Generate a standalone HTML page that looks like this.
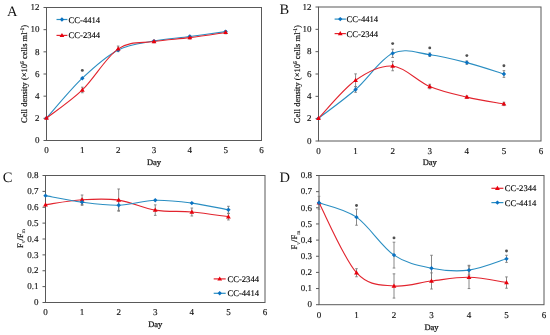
<!DOCTYPE html>
<html><head><meta charset="utf-8"><style>
html,body{margin:0;padding:0;background:#fff;width:550px;height:335px;overflow:hidden}
svg{display:block;text-rendering:geometricPrecision;will-change:transform;filter:blur(0.3px);font-family:"Liberation Serif",serif}
</style></head><body>
<svg width="550" height="335" viewBox="0 0 550 335">
<rect width="550" height="335" fill="#fff"/>
<rect x="46.50" y="7.50" width="215.00" height="133.00" fill="none" stroke="#595959" stroke-width="1"/>
<line x1="43.50" y1="140.50" x2="46.50" y2="140.50" stroke="#595959" stroke-width="1"/>
<text x="39.50" y="143.20" font-size="9" text-anchor="end" font-weight="normal" fill="#151515" stroke="#151515" stroke-width="0.15" >0</text>
<line x1="43.50" y1="118.33" x2="46.50" y2="118.33" stroke="#595959" stroke-width="1"/>
<text x="39.50" y="121.03" font-size="9" text-anchor="end" font-weight="normal" fill="#151515" stroke="#151515" stroke-width="0.15" >2</text>
<line x1="43.50" y1="96.17" x2="46.50" y2="96.17" stroke="#595959" stroke-width="1"/>
<text x="39.50" y="98.87" font-size="9" text-anchor="end" font-weight="normal" fill="#151515" stroke="#151515" stroke-width="0.15" >4</text>
<line x1="43.50" y1="74.00" x2="46.50" y2="74.00" stroke="#595959" stroke-width="1"/>
<text x="39.50" y="76.70" font-size="9" text-anchor="end" font-weight="normal" fill="#151515" stroke="#151515" stroke-width="0.15" >6</text>
<line x1="43.50" y1="51.83" x2="46.50" y2="51.83" stroke="#595959" stroke-width="1"/>
<text x="39.50" y="54.53" font-size="9" text-anchor="end" font-weight="normal" fill="#151515" stroke="#151515" stroke-width="0.15" >8</text>
<line x1="43.50" y1="29.67" x2="46.50" y2="29.67" stroke="#595959" stroke-width="1"/>
<text x="39.50" y="32.37" font-size="9" text-anchor="end" font-weight="normal" fill="#151515" stroke="#151515" stroke-width="0.15" >10</text>
<line x1="43.50" y1="7.50" x2="46.50" y2="7.50" stroke="#595959" stroke-width="1"/>
<text x="39.50" y="10.20" font-size="9" text-anchor="end" font-weight="normal" fill="#151515" stroke="#151515" stroke-width="0.15" >12</text>
<text x="46.50" y="153.45" font-size="9" text-anchor="middle" font-weight="normal" fill="#151515" stroke="#151515" stroke-width="0.15" >0</text>
<text x="82.33" y="153.45" font-size="9" text-anchor="middle" font-weight="normal" fill="#151515" stroke="#151515" stroke-width="0.15" >1</text>
<text x="118.17" y="153.45" font-size="9" text-anchor="middle" font-weight="normal" fill="#151515" stroke="#151515" stroke-width="0.15" >2</text>
<text x="154.00" y="153.45" font-size="9" text-anchor="middle" font-weight="normal" fill="#151515" stroke="#151515" stroke-width="0.15" >3</text>
<text x="189.83" y="153.45" font-size="9" text-anchor="middle" font-weight="normal" fill="#151515" stroke="#151515" stroke-width="0.15" >4</text>
<text x="225.67" y="153.45" font-size="9" text-anchor="middle" font-weight="normal" fill="#151515" stroke="#151515" stroke-width="0.15" >5</text>
<text x="261.50" y="153.45" font-size="9" text-anchor="middle" font-weight="normal" fill="#151515" stroke="#151515" stroke-width="0.15" >6</text>
<text x="154.00" y="165.00" font-size="8.5" text-anchor="middle" font-weight="normal" fill="#151515" stroke="#151515" stroke-width="0.25" >Day</text>
<text transform="rotate(-90 27.30 74.00)" x="27.30" y="74.00" font-size="8.5" text-anchor="middle" font-weight="normal" fill="#151515" stroke="#151515" stroke-width="0.2">Cell density (×10<tspan font-size="5.5" dy="-3">6</tspan><tspan dy="3"> cells ml</tspan><tspan font-size="5.5" dy="-3">-1</tspan><tspan dy="3">)</tspan></text>
<text x="7.00" y="15.90" font-size="14.5" text-anchor="start" font-weight="normal" fill="#111" stroke="#111" stroke-width="0" >A</text>
<path d="M189.83,35.43 V37.65 M188.53,35.43 h2.6 M188.53,37.65 h2.6" stroke="#7c7c7c" stroke-width="0.9" fill="none"/>
<path d="M225.67,30.55 V32.77 M224.37,30.55 h2.6 M224.37,32.77 h2.6" stroke="#7c7c7c" stroke-width="0.9" fill="none"/>
<path d="M82.33,87.19 V92.73 M81.03,87.19 h2.6 M81.03,92.73 h2.6" stroke="#7c7c7c" stroke-width="0.9" fill="none"/>
<path d="M118.17,46.07 V51.61 M116.87,46.07 h2.6 M116.87,51.61 h2.6" stroke="#7c7c7c" stroke-width="0.9" fill="none"/>
<path d="M154.00,40.42 V42.63 M152.70,40.42 h2.6 M152.70,42.63 h2.6" stroke="#7c7c7c" stroke-width="0.9" fill="none"/>
<path d="M189.83,36.32 V38.98 M188.53,36.32 h2.6 M188.53,38.98 h2.6" stroke="#7c7c7c" stroke-width="0.9" fill="none"/>
<path d="M225.67,31.11 V33.77 M224.37,31.11 h2.6 M224.37,33.77 h2.6" stroke="#7c7c7c" stroke-width="0.9" fill="none"/>
<path d="M46.50,118.11 C52.47,111.46 70.39,89.57 82.33,78.21 C94.28,66.85 106.22,56.14 118.17,49.95 C130.11,43.76 142.06,43.32 154.00,41.08 C165.94,38.85 177.89,38.11 189.83,36.54 C201.78,34.97 219.69,32.47 225.67,31.66" fill="none" stroke="#2a8ec2" stroke-width="1.10"/>
<path d="M46.50,115.91 l2.20,2.20 l-2.20,2.20 l-2.20,-2.20 z" fill="#0a72c2"/>
<path d="M82.33,76.01 l2.20,2.20 l-2.20,2.20 l-2.20,-2.20 z" fill="#0a72c2"/>
<path d="M118.17,47.75 l2.20,2.20 l-2.20,2.20 l-2.20,-2.20 z" fill="#0a72c2"/>
<path d="M154.00,38.88 l2.20,2.20 l-2.20,2.20 l-2.20,-2.20 z" fill="#0a72c2"/>
<path d="M189.83,34.34 l2.20,2.20 l-2.20,2.20 l-2.20,-2.20 z" fill="#0a72c2"/>
<path d="M225.67,29.46 l2.20,2.20 l-2.20,2.20 l-2.20,-2.20 z" fill="#0a72c2"/>
<path d="M46.50,118.11 C52.47,113.42 70.39,101.51 82.33,89.96 C94.28,78.41 106.22,56.91 118.17,48.84 C130.11,40.77 142.06,43.39 154.00,41.53 C165.94,39.66 177.89,39.16 189.83,37.65 C201.78,36.13 219.69,33.31 225.67,32.44" fill="none" stroke="#e2242e" stroke-width="1.10"/>
<path d="M46.50,115.59 L48.90,119.79 L44.10,119.79 z" fill="#e8000c"/>
<path d="M82.33,87.44 L84.73,91.64 L79.93,91.64 z" fill="#e8000c"/>
<path d="M118.17,46.32 L120.57,50.52 L115.77,50.52 z" fill="#e8000c"/>
<path d="M154.00,39.01 L156.40,43.21 L151.60,43.21 z" fill="#e8000c"/>
<path d="M189.83,35.13 L192.23,39.33 L187.43,39.33 z" fill="#e8000c"/>
<path d="M225.67,29.92 L228.07,34.12 L223.27,34.12 z" fill="#e8000c"/>
<circle cx="82.33" cy="70.40" r="1.45" fill="#505050"/>
<line x1="56.50" y1="19.50" x2="67.40" y2="19.50" stroke="#2a8ec2" stroke-width="1.2"/>
<path d="M61.95,17.30 l2.20,2.20 l-2.20,2.20 l-2.20,-2.20 z" fill="#0a72c2"/>
<text x="68.50" y="22.50" font-size="8.65" text-anchor="start" font-weight="normal" fill="#000" stroke="#000" stroke-width="0.14" >CC-4414</text>
<line x1="56.50" y1="35.40" x2="67.40" y2="35.40" stroke="#e2242e" stroke-width="1.2"/>
<path d="M61.95,32.88 L64.35,37.08 L59.55,37.08 z" fill="#e8000c"/>
<text x="68.50" y="38.40" font-size="8.65" text-anchor="start" font-weight="normal" fill="#000" stroke="#000" stroke-width="0.14" >CC-2344</text>
<rect x="318.50" y="7.00" width="222.50" height="134.00" fill="none" stroke="#595959" stroke-width="1"/>
<line x1="315.50" y1="141.00" x2="318.50" y2="141.00" stroke="#595959" stroke-width="1"/>
<text x="311.50" y="143.70" font-size="9" text-anchor="end" font-weight="normal" fill="#151515" stroke="#151515" stroke-width="0.15" >0</text>
<line x1="315.50" y1="118.67" x2="318.50" y2="118.67" stroke="#595959" stroke-width="1"/>
<text x="311.50" y="121.37" font-size="9" text-anchor="end" font-weight="normal" fill="#151515" stroke="#151515" stroke-width="0.15" >2</text>
<line x1="315.50" y1="96.33" x2="318.50" y2="96.33" stroke="#595959" stroke-width="1"/>
<text x="311.50" y="99.03" font-size="9" text-anchor="end" font-weight="normal" fill="#151515" stroke="#151515" stroke-width="0.15" >4</text>
<line x1="315.50" y1="74.00" x2="318.50" y2="74.00" stroke="#595959" stroke-width="1"/>
<text x="311.50" y="76.70" font-size="9" text-anchor="end" font-weight="normal" fill="#151515" stroke="#151515" stroke-width="0.15" >6</text>
<line x1="315.50" y1="51.67" x2="318.50" y2="51.67" stroke="#595959" stroke-width="1"/>
<text x="311.50" y="54.37" font-size="9" text-anchor="end" font-weight="normal" fill="#151515" stroke="#151515" stroke-width="0.15" >8</text>
<line x1="315.50" y1="29.33" x2="318.50" y2="29.33" stroke="#595959" stroke-width="1"/>
<text x="311.50" y="32.03" font-size="9" text-anchor="end" font-weight="normal" fill="#151515" stroke="#151515" stroke-width="0.15" >10</text>
<line x1="315.50" y1="7.00" x2="318.50" y2="7.00" stroke="#595959" stroke-width="1"/>
<text x="311.50" y="9.70" font-size="9" text-anchor="end" font-weight="normal" fill="#151515" stroke="#151515" stroke-width="0.15" >12</text>
<text x="318.50" y="153.95" font-size="9" text-anchor="middle" font-weight="normal" fill="#151515" stroke="#151515" stroke-width="0.15" >0</text>
<text x="355.58" y="153.95" font-size="9" text-anchor="middle" font-weight="normal" fill="#151515" stroke="#151515" stroke-width="0.15" >1</text>
<text x="392.67" y="153.95" font-size="9" text-anchor="middle" font-weight="normal" fill="#151515" stroke="#151515" stroke-width="0.15" >2</text>
<text x="429.75" y="153.95" font-size="9" text-anchor="middle" font-weight="normal" fill="#151515" stroke="#151515" stroke-width="0.15" >3</text>
<text x="466.83" y="153.95" font-size="9" text-anchor="middle" font-weight="normal" fill="#151515" stroke="#151515" stroke-width="0.15" >4</text>
<text x="503.92" y="153.95" font-size="9" text-anchor="middle" font-weight="normal" fill="#151515" stroke="#151515" stroke-width="0.15" >5</text>
<text x="541.00" y="153.95" font-size="9" text-anchor="middle" font-weight="normal" fill="#151515" stroke="#151515" stroke-width="0.15" >6</text>
<text x="429.75" y="165.00" font-size="8.5" text-anchor="middle" font-weight="normal" fill="#151515" stroke="#151515" stroke-width="0.25" >Day</text>
<text transform="rotate(-90 299.60 74.10)" x="299.60" y="74.10" font-size="8.5" text-anchor="middle" font-weight="normal" fill="#151515" stroke="#151515" stroke-width="0.2">Cell density (×10<tspan font-size="5.5" dy="-3">6</tspan><tspan dy="3"> cells ml</tspan><tspan font-size="5.5" dy="-3">-1</tspan><tspan dy="3">)</tspan></text>
<text x="279.50" y="14.30" font-size="14.5" text-anchor="start" font-weight="normal" fill="#111" stroke="#111" stroke-width="0" >B</text>
<path d="M355.58,86.73 V92.31 M354.28,86.73 h2.6 M354.28,92.31 h2.6" stroke="#7c7c7c" stroke-width="0.9" fill="none"/>
<path d="M392.67,49.21 V57.47 M391.37,49.21 h2.6 M391.37,57.47 h2.6" stroke="#7c7c7c" stroke-width="0.9" fill="none"/>
<path d="M429.75,53.01 V56.36 M428.45,53.01 h2.6 M428.45,56.36 h2.6" stroke="#7c7c7c" stroke-width="0.9" fill="none"/>
<path d="M466.83,60.94 V64.29 M465.53,60.94 h2.6 M465.53,64.29 h2.6" stroke="#7c7c7c" stroke-width="0.9" fill="none"/>
<path d="M503.92,70.65 V77.35 M502.62,70.65 h2.6 M502.62,77.35 h2.6" stroke="#7c7c7c" stroke-width="0.9" fill="none"/>
<path d="M355.58,73.89 V86.62 M354.28,73.89 h2.6 M354.28,86.62 h2.6" stroke="#7c7c7c" stroke-width="0.9" fill="none"/>
<path d="M392.67,61.38 V70.76 M391.37,61.38 h2.6 M391.37,70.76 h2.6" stroke="#7c7c7c" stroke-width="0.9" fill="none"/>
<path d="M429.75,84.27 V88.74 M428.45,84.27 h2.6 M428.45,88.74 h2.6" stroke="#7c7c7c" stroke-width="0.9" fill="none"/>
<path d="M466.83,96.00 V98.23 M465.53,96.00 h2.6 M465.53,98.23 h2.6" stroke="#7c7c7c" stroke-width="0.9" fill="none"/>
<path d="M503.92,102.25 V105.60 M502.62,102.25 h2.6 M502.62,105.60 h2.6" stroke="#7c7c7c" stroke-width="0.9" fill="none"/>
<path d="M318.50,118.33 C324.68,113.53 343.22,100.35 355.58,89.52 C367.94,78.69 380.31,59.15 392.67,53.34 C405.03,47.54 417.39,53.14 429.75,54.68 C442.11,56.23 454.47,59.39 466.83,62.61 C479.19,65.83 497.74,72.10 503.92,74.00" fill="none" stroke="#2a8ec2" stroke-width="1.10"/>
<path d="M318.50,116.13 l2.20,2.20 l-2.20,2.20 l-2.20,-2.20 z" fill="#0a72c2"/>
<path d="M355.58,87.32 l2.20,2.20 l-2.20,2.20 l-2.20,-2.20 z" fill="#0a72c2"/>
<path d="M392.67,51.14 l2.20,2.20 l-2.20,2.20 l-2.20,-2.20 z" fill="#0a72c2"/>
<path d="M429.75,52.48 l2.20,2.20 l-2.20,2.20 l-2.20,-2.20 z" fill="#0a72c2"/>
<path d="M466.83,60.41 l2.20,2.20 l-2.20,2.20 l-2.20,-2.20 z" fill="#0a72c2"/>
<path d="M503.92,71.80 l2.20,2.20 l-2.20,2.20 l-2.20,-2.20 z" fill="#0a72c2"/>
<path d="M318.50,118.33 C324.68,111.99 343.22,88.96 355.58,80.25 C367.94,71.54 380.31,65.03 392.67,66.07 C405.03,67.11 417.39,81.33 429.75,86.51 C442.11,91.68 454.47,94.21 466.83,97.12 C479.19,100.02 497.74,102.79 503.92,103.93" fill="none" stroke="#e2242e" stroke-width="1.10"/>
<path d="M318.50,115.81 L320.90,120.01 L316.10,120.01 z" fill="#e8000c"/>
<path d="M355.58,77.73 L357.98,81.93 L353.18,81.93 z" fill="#e8000c"/>
<path d="M392.67,63.55 L395.07,67.75 L390.27,67.75 z" fill="#e8000c"/>
<path d="M429.75,83.99 L432.15,88.19 L427.35,88.19 z" fill="#e8000c"/>
<path d="M466.83,94.60 L469.23,98.80 L464.43,98.80 z" fill="#e8000c"/>
<path d="M503.92,101.41 L506.32,105.61 L501.52,105.61 z" fill="#e8000c"/>
<circle cx="392.67" cy="43.60" r="1.45" fill="#505050"/>
<circle cx="429.75" cy="47.90" r="1.45" fill="#505050"/>
<circle cx="466.83" cy="55.60" r="1.45" fill="#505050"/>
<circle cx="503.92" cy="65.80" r="1.45" fill="#505050"/>
<line x1="334.60" y1="19.10" x2="345.90" y2="19.10" stroke="#2a8ec2" stroke-width="1.2"/>
<path d="M340.25,16.90 l2.20,2.20 l-2.20,2.20 l-2.20,-2.20 z" fill="#0a72c2"/>
<text x="346.50" y="22.10" font-size="8.65" text-anchor="start" font-weight="normal" fill="#000" stroke="#000" stroke-width="0.14" >CC-4414</text>
<line x1="334.60" y1="33.60" x2="345.90" y2="33.60" stroke="#e2242e" stroke-width="1.2"/>
<path d="M340.25,31.08 L342.65,35.28 L337.85,35.28 z" fill="#e8000c"/>
<text x="346.50" y="36.60" font-size="8.65" text-anchor="start" font-weight="normal" fill="#000" stroke="#000" stroke-width="0.14" >CC-2344</text>
<rect x="45.50" y="175.50" width="219.50" height="127.00" fill="none" stroke="#595959" stroke-width="1"/>
<line x1="42.50" y1="302.50" x2="45.50" y2="302.50" stroke="#595959" stroke-width="1"/>
<text x="38.50" y="305.20" font-size="9" text-anchor="end" font-weight="normal" fill="#151515" stroke="#151515" stroke-width="0.15" >0</text>
<line x1="42.50" y1="286.62" x2="45.50" y2="286.62" stroke="#595959" stroke-width="1"/>
<text x="38.50" y="289.32" font-size="9" text-anchor="end" font-weight="normal" fill="#151515" stroke="#151515" stroke-width="0.15" >0.1</text>
<line x1="42.50" y1="270.75" x2="45.50" y2="270.75" stroke="#595959" stroke-width="1"/>
<text x="38.50" y="273.45" font-size="9" text-anchor="end" font-weight="normal" fill="#151515" stroke="#151515" stroke-width="0.15" >0.2</text>
<line x1="42.50" y1="254.88" x2="45.50" y2="254.88" stroke="#595959" stroke-width="1"/>
<text x="38.50" y="257.57" font-size="9" text-anchor="end" font-weight="normal" fill="#151515" stroke="#151515" stroke-width="0.15" >0.3</text>
<line x1="42.50" y1="239.00" x2="45.50" y2="239.00" stroke="#595959" stroke-width="1"/>
<text x="38.50" y="241.70" font-size="9" text-anchor="end" font-weight="normal" fill="#151515" stroke="#151515" stroke-width="0.15" >0.4</text>
<line x1="42.50" y1="223.12" x2="45.50" y2="223.12" stroke="#595959" stroke-width="1"/>
<text x="38.50" y="225.82" font-size="9" text-anchor="end" font-weight="normal" fill="#151515" stroke="#151515" stroke-width="0.15" >0.5</text>
<line x1="42.50" y1="207.25" x2="45.50" y2="207.25" stroke="#595959" stroke-width="1"/>
<text x="38.50" y="209.95" font-size="9" text-anchor="end" font-weight="normal" fill="#151515" stroke="#151515" stroke-width="0.15" >0.6</text>
<line x1="42.50" y1="191.38" x2="45.50" y2="191.38" stroke="#595959" stroke-width="1"/>
<text x="38.50" y="194.07" font-size="9" text-anchor="end" font-weight="normal" fill="#151515" stroke="#151515" stroke-width="0.15" >0.7</text>
<line x1="42.50" y1="175.50" x2="45.50" y2="175.50" stroke="#595959" stroke-width="1"/>
<text x="38.50" y="178.20" font-size="9" text-anchor="end" font-weight="normal" fill="#151515" stroke="#151515" stroke-width="0.15" >0.8</text>
<text x="45.50" y="315.45" font-size="9" text-anchor="middle" font-weight="normal" fill="#151515" stroke="#151515" stroke-width="0.15" >0</text>
<text x="82.08" y="315.45" font-size="9" text-anchor="middle" font-weight="normal" fill="#151515" stroke="#151515" stroke-width="0.15" >1</text>
<text x="118.67" y="315.45" font-size="9" text-anchor="middle" font-weight="normal" fill="#151515" stroke="#151515" stroke-width="0.15" >2</text>
<text x="155.25" y="315.45" font-size="9" text-anchor="middle" font-weight="normal" fill="#151515" stroke="#151515" stroke-width="0.15" >3</text>
<text x="191.83" y="315.45" font-size="9" text-anchor="middle" font-weight="normal" fill="#151515" stroke="#151515" stroke-width="0.15" >4</text>
<text x="228.42" y="315.45" font-size="9" text-anchor="middle" font-weight="normal" fill="#151515" stroke="#151515" stroke-width="0.15" >5</text>
<text x="265.00" y="315.45" font-size="9" text-anchor="middle" font-weight="normal" fill="#151515" stroke="#151515" stroke-width="0.15" >6</text>
<text x="155.25" y="327.00" font-size="8.5" text-anchor="middle" font-weight="normal" fill="#151515" stroke="#151515" stroke-width="0.25" >Day</text>
<text transform="rotate(-90 22.50 238.50)" x="22.50" y="238.50" font-size="8.5" text-anchor="middle" font-weight="normal" fill="#151515" stroke="#151515" stroke-width="0.22">F<tspan font-size="5.4" dy="2.6" stroke-width="0.08">v</tspan><tspan dy="-2.6">/F</tspan><tspan font-size="5.4" dy="2.6" stroke-width="0.08">m</tspan></text>
<text x="2.70" y="182.30" font-size="14.5" text-anchor="start" font-weight="normal" fill="#111" stroke="#111" stroke-width="0" >C</text>
<path d="M82.08,195.03 V204.55 M80.78,195.03 h2.6 M80.78,204.55 h2.6" stroke="#7c7c7c" stroke-width="0.9" fill="none"/>
<path d="M118.67,188.99 V211.22 M117.37,188.99 h2.6 M117.37,211.22 h2.6" stroke="#7c7c7c" stroke-width="0.9" fill="none"/>
<path d="M155.25,204.87 V215.35 M153.95,204.87 h2.6 M153.95,215.35 h2.6" stroke="#7c7c7c" stroke-width="0.9" fill="none"/>
<path d="M191.83,208.04 V215.98 M190.53,208.04 h2.6 M190.53,215.98 h2.6" stroke="#7c7c7c" stroke-width="0.9" fill="none"/>
<path d="M228.42,213.60 V219.95 M227.12,213.60 h2.6 M227.12,219.95 h2.6" stroke="#7c7c7c" stroke-width="0.9" fill="none"/>
<path d="M82.08,199.00 V205.34 M80.78,199.00 h2.6 M80.78,205.34 h2.6" stroke="#7c7c7c" stroke-width="0.9" fill="none"/>
<path d="M118.67,199.95 V210.43 M117.37,199.95 h2.6 M117.37,210.43 h2.6" stroke="#7c7c7c" stroke-width="0.9" fill="none"/>
<path d="M228.42,206.30 V213.28 M227.12,206.30 h2.6 M227.12,213.28 h2.6" stroke="#7c7c7c" stroke-width="0.9" fill="none"/>
<path d="M45.50,204.71 C51.60,203.89 69.89,200.56 82.08,199.79 C94.28,199.02 106.47,198.39 118.67,200.11 C130.86,201.83 143.06,208.12 155.25,210.11 C167.44,212.09 179.64,210.90 191.83,212.01 C204.03,213.12 222.32,215.98 228.42,216.78" fill="none" stroke="#e2242e" stroke-width="1.10"/>
<path d="M45.50,202.19 L47.90,206.39 L43.10,206.39 z" fill="#e8000c"/>
<path d="M82.08,197.27 L84.48,201.47 L79.68,201.47 z" fill="#e8000c"/>
<path d="M118.67,197.59 L121.07,201.79 L116.27,201.79 z" fill="#e8000c"/>
<path d="M155.25,207.59 L157.65,211.79 L152.85,211.79 z" fill="#e8000c"/>
<path d="M191.83,209.49 L194.23,213.69 L189.43,213.69 z" fill="#e8000c"/>
<path d="M228.42,214.25 L230.82,218.46 L226.02,218.46 z" fill="#e8000c"/>
<path d="M45.50,195.66 C51.60,196.75 69.89,200.58 82.08,202.17 C94.28,203.76 106.47,205.50 118.67,205.19 C130.86,204.87 143.06,200.61 155.25,200.27 C167.44,199.92 179.64,201.53 191.83,203.12 C204.03,204.71 222.32,208.68 228.42,209.79" fill="none" stroke="#2a8ec2" stroke-width="1.10"/>
<path d="M45.50,193.46 l2.20,2.20 l-2.20,2.20 l-2.20,-2.20 z" fill="#0a72c2"/>
<path d="M82.08,199.97 l2.20,2.20 l-2.20,2.20 l-2.20,-2.20 z" fill="#0a72c2"/>
<path d="M118.67,202.99 l2.20,2.20 l-2.20,2.20 l-2.20,-2.20 z" fill="#0a72c2"/>
<path d="M155.25,198.07 l2.20,2.20 l-2.20,2.20 l-2.20,-2.20 z" fill="#0a72c2"/>
<path d="M191.83,200.92 l2.20,2.20 l-2.20,2.20 l-2.20,-2.20 z" fill="#0a72c2"/>
<path d="M228.42,207.59 l2.20,2.20 l-2.20,2.20 l-2.20,-2.20 z" fill="#0a72c2"/>
<line x1="213.70" y1="278.90" x2="225.70" y2="278.90" stroke="#e2242e" stroke-width="1.2"/>
<path d="M219.70,276.38 L222.10,280.58 L217.30,280.58 z" fill="#e8000c"/>
<text x="227.40" y="281.90" font-size="8.65" text-anchor="start" font-weight="normal" fill="#000" stroke="#000" stroke-width="0.14" >CC-2344</text>
<line x1="213.70" y1="293.30" x2="225.70" y2="293.30" stroke="#2a8ec2" stroke-width="1.2"/>
<path d="M219.70,291.10 l2.20,2.20 l-2.20,2.20 l-2.20,-2.20 z" fill="#0a72c2"/>
<text x="227.40" y="296.30" font-size="8.65" text-anchor="start" font-weight="normal" fill="#000" stroke="#000" stroke-width="0.14" >CC-4414</text>
<rect x="319.00" y="175.50" width="225.00" height="129.20" fill="none" stroke="#595959" stroke-width="1"/>
<line x1="316.00" y1="304.70" x2="319.00" y2="304.70" stroke="#595959" stroke-width="1"/>
<text x="312.00" y="307.40" font-size="9" text-anchor="end" font-weight="normal" fill="#151515" stroke="#151515" stroke-width="0.15" >0</text>
<line x1="316.00" y1="288.55" x2="319.00" y2="288.55" stroke="#595959" stroke-width="1"/>
<text x="312.00" y="291.25" font-size="9" text-anchor="end" font-weight="normal" fill="#151515" stroke="#151515" stroke-width="0.15" >0.1</text>
<line x1="316.00" y1="272.40" x2="319.00" y2="272.40" stroke="#595959" stroke-width="1"/>
<text x="312.00" y="275.10" font-size="9" text-anchor="end" font-weight="normal" fill="#151515" stroke="#151515" stroke-width="0.15" >0.2</text>
<line x1="316.00" y1="256.25" x2="319.00" y2="256.25" stroke="#595959" stroke-width="1"/>
<text x="312.00" y="258.95" font-size="9" text-anchor="end" font-weight="normal" fill="#151515" stroke="#151515" stroke-width="0.15" >0.3</text>
<line x1="316.00" y1="240.10" x2="319.00" y2="240.10" stroke="#595959" stroke-width="1"/>
<text x="312.00" y="242.80" font-size="9" text-anchor="end" font-weight="normal" fill="#151515" stroke="#151515" stroke-width="0.15" >0.4</text>
<line x1="316.00" y1="223.95" x2="319.00" y2="223.95" stroke="#595959" stroke-width="1"/>
<text x="312.00" y="226.65" font-size="9" text-anchor="end" font-weight="normal" fill="#151515" stroke="#151515" stroke-width="0.15" >0.5</text>
<line x1="316.00" y1="207.80" x2="319.00" y2="207.80" stroke="#595959" stroke-width="1"/>
<text x="312.00" y="210.50" font-size="9" text-anchor="end" font-weight="normal" fill="#151515" stroke="#151515" stroke-width="0.15" >0.6</text>
<line x1="316.00" y1="191.65" x2="319.00" y2="191.65" stroke="#595959" stroke-width="1"/>
<text x="312.00" y="194.35" font-size="9" text-anchor="end" font-weight="normal" fill="#151515" stroke="#151515" stroke-width="0.15" >0.7</text>
<line x1="316.00" y1="175.50" x2="319.00" y2="175.50" stroke="#595959" stroke-width="1"/>
<text x="312.00" y="178.20" font-size="9" text-anchor="end" font-weight="normal" fill="#151515" stroke="#151515" stroke-width="0.15" >0.8</text>
<text x="319.00" y="317.65" font-size="9" text-anchor="middle" font-weight="normal" fill="#151515" stroke="#151515" stroke-width="0.15" >0</text>
<text x="356.50" y="317.65" font-size="9" text-anchor="middle" font-weight="normal" fill="#151515" stroke="#151515" stroke-width="0.15" >1</text>
<text x="394.00" y="317.65" font-size="9" text-anchor="middle" font-weight="normal" fill="#151515" stroke="#151515" stroke-width="0.15" >2</text>
<text x="431.50" y="317.65" font-size="9" text-anchor="middle" font-weight="normal" fill="#151515" stroke="#151515" stroke-width="0.15" >3</text>
<text x="469.00" y="317.65" font-size="9" text-anchor="middle" font-weight="normal" fill="#151515" stroke="#151515" stroke-width="0.15" >4</text>
<text x="506.50" y="317.65" font-size="9" text-anchor="middle" font-weight="normal" fill="#151515" stroke="#151515" stroke-width="0.15" >5</text>
<text x="544.00" y="317.65" font-size="9" text-anchor="middle" font-weight="normal" fill="#151515" stroke="#151515" stroke-width="0.15" >6</text>
<text x="431.50" y="329.50" font-size="8.5" text-anchor="middle" font-weight="normal" fill="#151515" stroke="#151515" stroke-width="0.25" >Day</text>
<text transform="rotate(-90 297.00 240.00)" x="297.00" y="240.00" font-size="8.5" text-anchor="middle" font-weight="normal" fill="#151515" stroke="#151515" stroke-width="0.22">F<tspan font-size="5.4" dy="2.6" stroke-width="0.08">v</tspan><tspan dy="-2.6">/F</tspan><tspan font-size="5.4" dy="2.6" stroke-width="0.08">m</tspan></text>
<text x="279.40" y="182.00" font-size="14.5" text-anchor="start" font-weight="normal" fill="#111" stroke="#111" stroke-width="0" >D</text>
<path d="M356.50,268.69 V276.76 M355.20,268.69 h2.6 M355.20,276.76 h2.6" stroke="#7c7c7c" stroke-width="0.9" fill="none"/>
<path d="M394.00,273.85 V298.08 M392.70,273.85 h2.6 M392.70,298.08 h2.6" stroke="#7c7c7c" stroke-width="0.9" fill="none"/>
<path d="M431.50,272.88 V289.03 M430.20,272.88 h2.6 M430.20,289.03 h2.6" stroke="#7c7c7c" stroke-width="0.9" fill="none"/>
<path d="M469.00,265.94 V288.55 M467.70,265.94 h2.6 M467.70,288.55 h2.6" stroke="#7c7c7c" stroke-width="0.9" fill="none"/>
<path d="M506.50,276.92 V288.23 M505.20,276.92 h2.6 M505.20,288.23 h2.6" stroke="#7c7c7c" stroke-width="0.9" fill="none"/>
<path d="M319.00,196.33 V209.25 M317.70,196.33 h2.6 M317.70,209.25 h2.6" stroke="#7c7c7c" stroke-width="0.9" fill="none"/>
<path d="M356.50,209.09 V225.24 M355.20,209.09 h2.6 M355.20,225.24 h2.6" stroke="#7c7c7c" stroke-width="0.9" fill="none"/>
<path d="M394.00,242.20 V268.04 M392.70,242.20 h2.6 M392.70,268.04 h2.6" stroke="#7c7c7c" stroke-width="0.9" fill="none"/>
<path d="M431.50,255.28 V281.12 M430.20,255.28 h2.6 M430.20,281.12 h2.6" stroke="#7c7c7c" stroke-width="0.9" fill="none"/>
<path d="M469.00,265.29 V274.98 M467.70,265.29 h2.6 M467.70,274.98 h2.6" stroke="#7c7c7c" stroke-width="0.9" fill="none"/>
<path d="M506.50,255.28 V262.39 M505.20,255.28 h2.6 M505.20,262.39 h2.6" stroke="#7c7c7c" stroke-width="0.9" fill="none"/>
<path d="M319.00,202.79 C325.25,214.45 344.00,258.86 356.50,272.72 C369.00,286.59 381.50,284.59 394.00,285.97 C406.50,287.34 419.00,282.41 431.50,280.96 C444.00,279.51 456.50,276.98 469.00,277.25 C481.50,277.51 500.25,281.69 506.50,282.57" fill="none" stroke="#e2242e" stroke-width="1.10"/>
<path d="M319.00,200.27 L321.40,204.47 L316.60,204.47 z" fill="#e8000c"/>
<path d="M356.50,270.20 L358.90,274.40 L354.10,274.40 z" fill="#e8000c"/>
<path d="M394.00,283.45 L396.40,287.65 L391.60,287.65 z" fill="#e8000c"/>
<path d="M431.50,278.44 L433.90,282.64 L429.10,282.64 z" fill="#e8000c"/>
<path d="M469.00,274.73 L471.40,278.93 L466.60,278.93 z" fill="#e8000c"/>
<path d="M506.50,280.05 L508.90,284.25 L504.10,284.25 z" fill="#e8000c"/>
<path d="M319.00,202.79 C325.25,205.19 344.00,208.45 356.50,217.17 C369.00,225.89 381.50,246.61 394.00,255.12 C406.50,263.63 419.00,265.70 431.50,268.20 C444.00,270.70 456.50,271.70 469.00,270.14 C481.50,268.58 500.25,260.72 506.50,258.83" fill="none" stroke="#2a8ec2" stroke-width="1.10"/>
<path d="M319.00,200.59 l2.20,2.20 l-2.20,2.20 l-2.20,-2.20 z" fill="#0a72c2"/>
<path d="M356.50,214.97 l2.20,2.20 l-2.20,2.20 l-2.20,-2.20 z" fill="#0a72c2"/>
<path d="M394.00,252.92 l2.20,2.20 l-2.20,2.20 l-2.20,-2.20 z" fill="#0a72c2"/>
<path d="M431.50,266.00 l2.20,2.20 l-2.20,2.20 l-2.20,-2.20 z" fill="#0a72c2"/>
<path d="M469.00,267.94 l2.20,2.20 l-2.20,2.20 l-2.20,-2.20 z" fill="#0a72c2"/>
<path d="M506.50,256.63 l2.20,2.20 l-2.20,2.20 l-2.20,-2.20 z" fill="#0a72c2"/>
<circle cx="356.50" cy="205.50" r="1.45" fill="#505050"/>
<circle cx="394.00" cy="237.90" r="1.45" fill="#505050"/>
<circle cx="506.50" cy="251.00" r="1.45" fill="#505050"/>
<line x1="491.40" y1="188.30" x2="503.40" y2="188.30" stroke="#e2242e" stroke-width="1.2"/>
<path d="M497.40,185.78 L499.80,189.98 L495.00,189.98 z" fill="#e8000c"/>
<text x="504.70" y="191.30" font-size="8.65" text-anchor="start" font-weight="normal" fill="#000" stroke="#000" stroke-width="0.14" >CC-2344</text>
<line x1="491.40" y1="202.60" x2="503.40" y2="202.60" stroke="#2a8ec2" stroke-width="1.2"/>
<path d="M497.40,200.40 l2.20,2.20 l-2.20,2.20 l-2.20,-2.20 z" fill="#0a72c2"/>
<text x="504.70" y="205.60" font-size="8.65" text-anchor="start" font-weight="normal" fill="#000" stroke="#000" stroke-width="0.14" >CC-4414</text>
</svg></body></html>
